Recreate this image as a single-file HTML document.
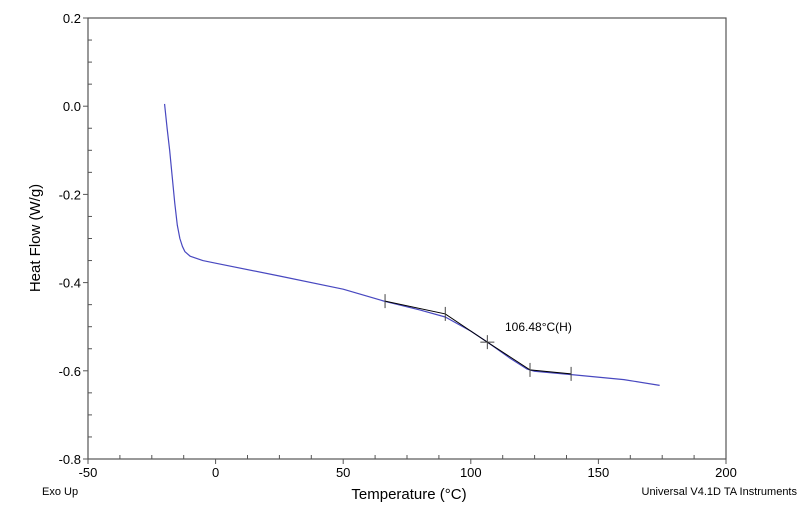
<!DOCTYPE html>
<html><head><meta charset="utf-8"><style>
body{margin:0;background:#fff;font-family:"Liberation Sans",Arial,sans-serif}
svg{display:block}
</style></head><body>
<svg id="c" width="800" height="514" font-family="Liberation Sans, Arial, sans-serif"></svg>
<script>
const xTicks=[-50,0,50,100,150,200];
const yTicks=[0.2,0.0,-0.2,-0.4,-0.6,-0.8];
const yTickLabels=["0.2","0.0","-0.2","-0.4","-0.6","-0.8"];
const temps=[-20,-19,-18,-17,-16,-15,-14,-13,-12,-10,-7,-5,0,25,50,66,80,90,100,106.5,115,122,125,140,160,174];
const flow=[0.005,-0.05,-0.1,-0.16,-0.22,-0.27,-0.3,-0.318,-0.33,-0.34,-0.346,-0.35,-0.356,-0.385,-0.415,-0.442,-0.462,-0.478,-0.51,-0.535,-0.57,-0.596,-0.601,-0.609,-0.62,-0.633];
const markT=[66.4,90,106.48,123.2,139.3];
const markF=[-0.442,-0.471,-0.535,-0.598,-0.607];
const NS="http://www.w3.org/2000/svg",svg=document.getElementById('c');
const X=v=>88+(v+50)*2.552, Y=v=>18+(0.2-v)*441;
function el(t,a,p){const e=document.createElementNS(NS,t);for(const k in a)e.setAttribute(k,a[k]);(p||svg).appendChild(e);return e;}
const ax=el('rect',{x:X(-50),y:Y(0.2),width:X(200)-X(-50),height:Y(-0.8)-Y(0.2),stroke:'#555',fill:'none','stroke-width':1.2});


for(let v=-50;v<=200;v+=12.5){const maj=Math.abs(v%50)<1e-6;el('line',{x1:X(v),x2:X(v),y1:Y(-0.8)+(maj?5:0),y2:Y(-0.8)-(maj?0:4),stroke:'#555'});}
for(let v=-0.8;v<=0.2001;v+=0.05){const maj=Math.abs(Math.round(v*100)%20)<1;el('line',{x1:X(-50)-(maj?5:0),x2:X(-50)+(maj?0:4),y1:Y(v),y2:Y(v),stroke:'#555'});}
xTicks.forEach(v=>{const t=el('text',{x:X(v),y:477,'text-anchor':'middle','font-size':13});t.textContent=v;

});
yTicks.forEach((v,i)=>{const t=el('text',{x:81,y:Y(v)+5,'text-anchor':'end','font-size':13});t.textContent=yTickLabels[i];

});
const line=el('path',{d:temps.map((t,i)=>(i?'L':'M')+X(t)+','+Y(flow[i])).join(''),stroke:'#4848c0',fill:'none','stroke-width':1.2,'stroke-linejoin':'round'});


const tan=el('path',{d:markT.map((t,i)=>(i?'L':'M')+X(t)+','+Y(markF[i])).join(''),stroke:'#000',fill:'none','stroke-width':1});


markT.forEach((t,i)=>{const x=X(t),y=Y(markF[i]);el('line',{x1:x,x2:x,y1:y-7,y2:y+7,stroke:'#444'});if(i==2)el('line',{x1:x-7,x2:x+7,y1:y,y2:y,stroke:'#444'});});
function txt(s,a,name){const t=el('text',a);t.textContent=s;return t;}
txt('106.48°C(H)',{x:505,y:331,'font-size':12},'tg-annotation');
txt('Temperature (°C)',{x:409,y:499,'text-anchor':'middle','font-size':15},'x-axis-title');
txt('Heat Flow (W/g)',{x:0,y:0,'text-anchor':'middle','font-size':15,transform:'translate(40,238) rotate(-90)'},'y-axis-title');
txt('Exo Up',{x:42,y:495,'font-size':11},'exo-up-label');
txt('Universal V4.1D TA Instruments',{x:797,y:495,'text-anchor':'end','font-size':11},'software-label');
</script>
</body></html>
